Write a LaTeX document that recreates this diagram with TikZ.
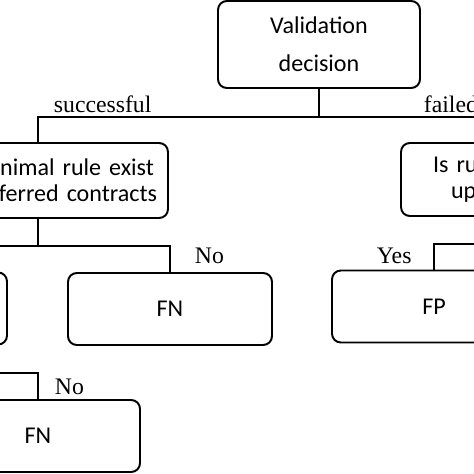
\documentclass[tikz,border=0pt]{standalone}
\usepackage{fontspec}
\setmainfont{Carlito}
\newfontfamily\labelfont{Liberation Serif}
\usepackage{tikz}
\usetikzlibrary{arrows.meta,calc,positioning}

\tikzset{
  box/.style={draw,rounded corners=5pt,line width=1.1pt,align=center,
    minimum width=4.08cm,minimum height=1.44cm,
    font=\fontsize{13.7}{16}\selectfont},
  lbl/.style={inner sep=0pt,anchor=base west,font=\labelfont\fontsize{13.5}{15}\selectfont},
}

\begin{document}
\begin{tikzpicture}[x=0.02cm,y=-0.02cm,line width=1.1pt]
    \useasboundingbox (0,0) rectangle (474,474);
    \clip (0,0) rectangle (474,474);
    \fill[white] (0,0) rectangle (474,474);

    \node[box,minimum width=4.04cm,minimum height=1.74cm,font=\fontsize{13.7}{21.6}\selectfont] (val) at (319,44.5) {Validation\\decision};
    \node[box,minimum width=5.2cm,minimum height=1.5cm,font=\fontsize{13.7}{14.8}\selectfont,
          align=right,text width=4.76cm,inner xsep=0.22cm] (minrule) at (38,180.5) {inimal rule exist\hspace*{0.06cm}\null\\ferred contracts};
    \node[box,minimum width=5.2cm,minimum height=1.46cm,font=\fontsize{13.7}{14.8}\selectfont,
          align=left,text width=3.92cm,inner xsep=0.64cm] (isrule) at (531,179.5) {Is ru\\\hspace*{0.36cm}up};

    \node[box] (other) at (-95,308.5) {};
    \node[box] (fnmid) at (170,309) {FN};
    \node[box] (fp) at (434,306.5) {FP};
    \node[box] (fnbot) at (38,436) {FN};

    % branches
    \draw (val.south) -- ++(0,28) -| (minrule.north);
    \draw (val.south) -- ++(0,28) -| (isrule.north);
    \draw (minrule.south) -- ++(0,27) -| (other.north);
    \draw (minrule.south) -- ++(0,27) -| (fnmid.north);
    \draw (isrule.south) -- ++(0,27) -| (fp.north);
    \draw (other.south) -- ++(0,28) -| (fnbot.north);

    \node[lbl] (succ) at (53,112) {successful};
    \node[lbl] (fail) at (423,112) {failed};
    \node[lbl] (nomid) at (194,263) {No};
    \node[lbl] (yes) at (376,263) {Yes};
    \node[lbl] (nobot) at (54,394) {No};
  \end{tikzpicture}
\end{document}
